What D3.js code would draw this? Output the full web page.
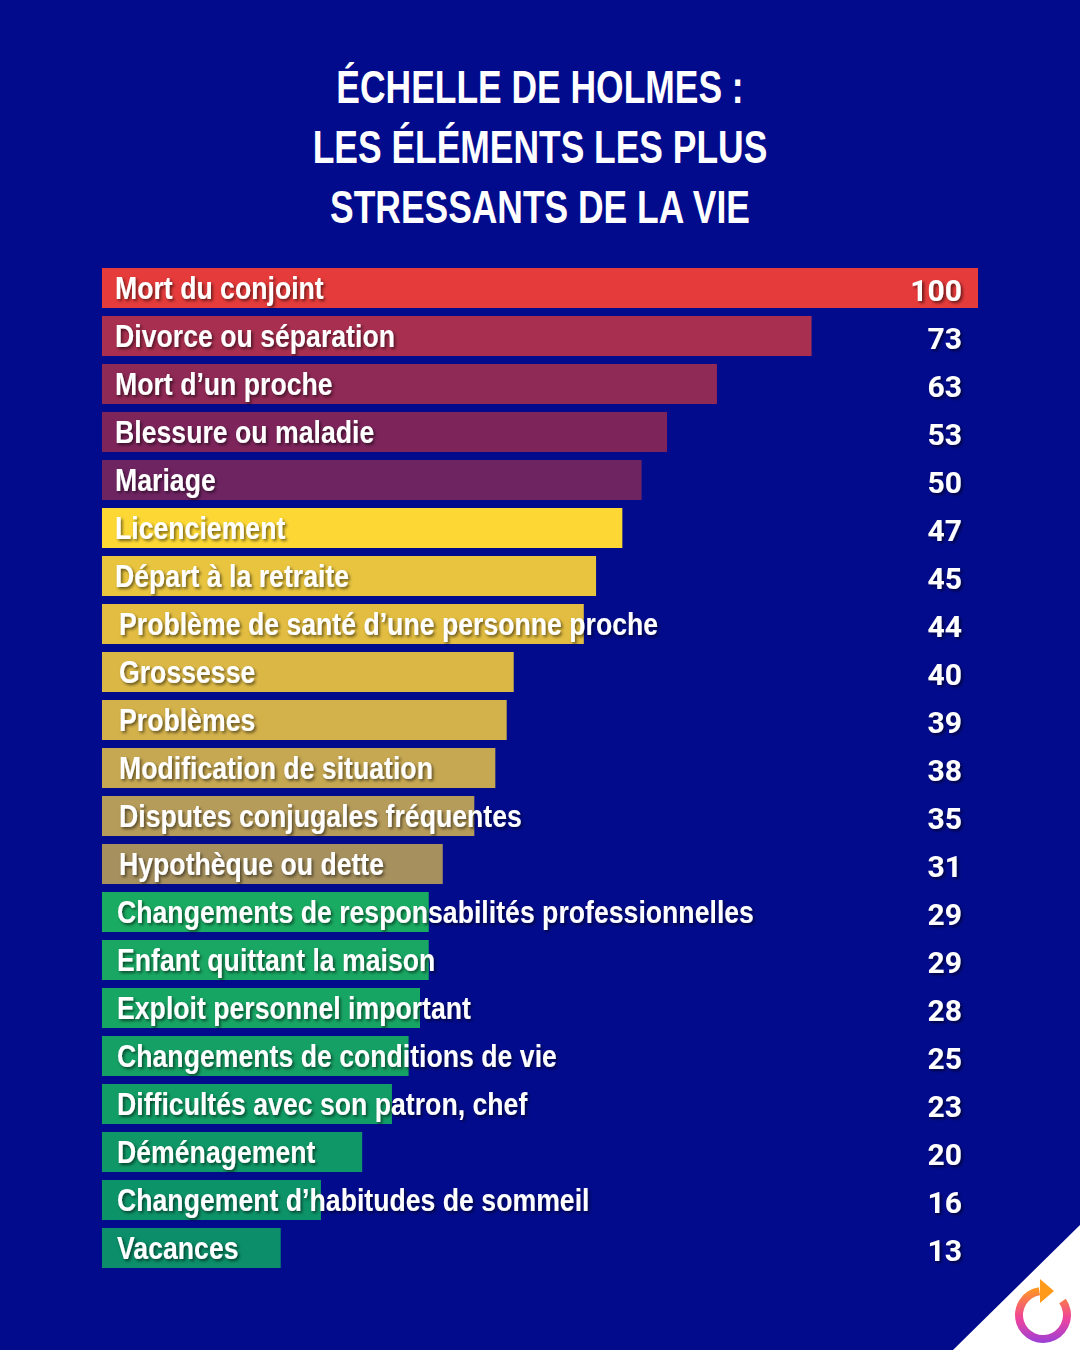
<!DOCTYPE html>
<html>
<head>
<meta charset="utf-8">
<script src="https://cdn.jsdelivr.net/npm/d3@7/dist/d3.min.js"></script>
<style>
html,body{margin:0;padding:0;background:#020b8c;}
svg{display:block;}
</style>
</head>
<body>
<svg id="chart" width="1080" height="1350"></svg>
<script>
// ---- data ----
const titleLines = ["ÉCHELLE DE HOLMES :", "LES ÉLÉMENTS LES PLUS", "STRESSANTS DE LA VIE"];
const labels = [
  "Mort du conjoint",
  "Divorce ou séparation",
  "Mort d\u2019un proche",
  "Blessure ou maladie",
  "Mariage",
  "Licenciement",
  "Départ à la retraite",
  "Problème de santé d\u2019une personne proche",
  "Grossesse",
  "Problèmes",
  "Modification de situation",
  "Disputes conjugales fréquentes",
  "Hypothèque ou dette",
  "Changements de responsabilités professionnelles",
  "Enfant quittant la maison",
  "Exploit personnel important",
  "Changements de conditions de vie",
  "Difficultés avec son patron, chef",
  "Déménagement",
  "Changement d\u2019habitudes de sommeil",
  "Vacances"
];
const values = [100, 73, 63, 53, 50, 47, 45, 44, 40, 39, 38, 35, 31, 29, 29, 28, 25, 23, 20, 16, 13];
// bar lengths as drawn in the picture (percent of the longest bar)
const barLengths = [100, 81.0, 70.2, 64.5, 61.6, 59.4, 56.4, 55.0, 47.0, 46.2, 44.9, 42.5, 38.9, 37.3, 37.3, 36.3, 35.0, 33.1, 29.7, 25.0, 20.4];

// ---- styles ----
const palette = ["#e53b3b","#a82f50","#8f2955","#7d245b","#6f2462",
  "#fdd835","#e8c43f","#e2bd41","#dbb846","#d3b14b","#c6a853","#b69c5b","#a6905e",
  "#1aab62","#19a763","#17a564","#15a065","#129d66","#0f9767","#0d9368","#0b8e69"];

const svg = d3.select("#chart");
const W = 1080, H = 1350;

const defs = svg.append("defs");
const f = defs.append("filter").attr("id","ts").attr("x","-10%").attr("y","-30%").attr("width","120%").attr("height","160%");
f.append("feDropShadow").attr("dx",2).attr("dy",2).attr("stdDeviation",1.6).attr("flood-color","#000").attr("flood-opacity",0.55);

const grad = defs.append("linearGradient").attr("id","lg").attr("x1","0").attr("y1","0").attr("x2","0").attr("y2","1");
grad.append("stop").attr("offset","0%").attr("stop-color","#ff9a1a");
grad.append("stop").attr("offset","55%").attr("stop-color","#f0449a");
grad.append("stop").attr("offset","100%").attr("stop-color","#9b3fd8");

svg.append("rect").attr("width",W).attr("height",H).attr("fill","#020b8c");

const font = "'Liberation Sans',Arial,sans-serif";

// title (condensed by horizontal scaling)
const tsx = 0.77;
svg.append("g").selectAll("text").data(titleLines).join("text")
  .attr("transform", (d,i) => `translate(540,${103 + i*60}) scale(${tsx},1)`)
  .attr("text-anchor","middle")
  .attr("fill","#fff")
  .attr("font-family", font)
  .attr("font-weight","bold")
  .attr("font-size", 46)
  .text(d => d);

// scales
const x = d3.scaleLinear().domain([0,100]).range([102, 978]);
const y = d3.scaleBand().domain(d3.range(labels.length)).range([264, 1272]).paddingInner(1/6).paddingOuter(1/12);

const g = svg.append("g");
g.selectAll("rect.bar").data(barLengths).join("rect")
  .attr("class","bar")
  .attr("x", x(0))
  .attr("y", (d,i) => y(i))
  .attr("width", d => x(d) - x(0))
  .attr("height", y.bandwidth())
  .attr("fill", (d,i) => palette[i]);

const lsx = 0.86;
g.selectAll("text.lab").data(labels).join("text")
  .attr("class","lab")
  .attr("transform", (d,i) => `translate(${i < 7 ? 115 : (i < 13 ? 119 : 117)},${y(i) + y.bandwidth()/2}) scale(${lsx},1)`)
  .attr("dy","0.36em")
  .attr("fill","#fff")
  .attr("font-family", font)
  .attr("font-weight","bold")
  .attr("font-size", 31)
  .attr("filter","url(#ts)")
  .text(d => d);

g.selectAll("text.val").data(values).join("text")
  .attr("class","val")
  .attr("x", 962)
  .attr("y", (d,i) => y(i) + y.bandwidth()/2 + 2)
  .attr("dy","0.36em")
  .attr("text-anchor","end")
  .attr("fill","#fff")
  .attr("font-family","Roboto,'Liberation Sans',sans-serif")
  .attr("font-weight","bold")
  .attr("font-size", 30)
  .attr("filter","url(#ts)")
  .text(d => d);

// corner logo
svg.append("path").attr("d", `M953,${H} L${W},1225 L${W},${H} Z`).attr("fill","#fff");
const cx = 1043, cy = 1315, r = 24;
const arc = d3.arc().innerRadius(r-4).outerRadius(r+4).startAngle(0.95).endAngle(2*Math.PI - 0.15);
svg.append("path").attr("transform",`translate(${cx},${cy})`).attr("d", arc()).attr("fill","url(#lg)");
svg.append("path")
  .attr("d", `M${cx-3},${cy-r-12} L${cx+11},${cy-r} L${cx-3},${cy-r+12} Z`)
  .attr("fill","#ff9a1a");
</script>
</body>
</html>
